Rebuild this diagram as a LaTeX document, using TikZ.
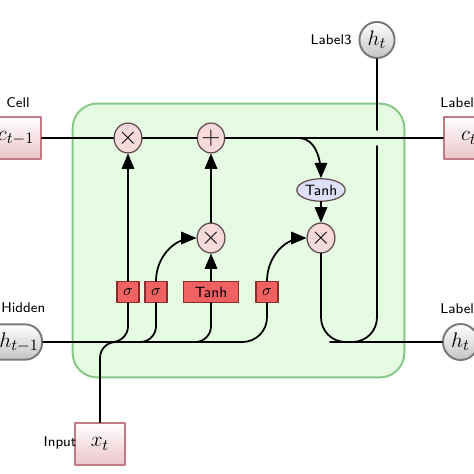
\documentclass[tikz,border=0pt]{standalone}
\usepackage{pgf,tikz}
\usetikzlibrary{arrows,shapes.geometric}

\definecolor{cellgreen}{RGB}{229,251,226}
\definecolor{cellborder}{RGB}{134,200,134}
\definecolor{oppink}{RGB}{248,218,218}
\definecolor{opborder}{RGB}{95,75,75}
\definecolor{gatered}{RGB}{240,98,98}
\definecolor{gateborder}{RGB}{140,45,45}
\definecolor{tanhblue}{RGB}{222,224,250}
\definecolor{boxpink}{RGB}{236,196,202}
\definecolor{boxborder}{RGB}{192,122,132}
\definecolor{hidgray}{RGB}{196,196,196}
\definecolor{hidborder}{RGB}{120,120,120}

\tikzset{
  cellbody/.style={draw=cellborder,fill=cellgreen,line width=1.1pt,rounded corners=14pt,
    minimum width=188.8pt,minimum height=155.9pt},
  operator/.style={ellipse,draw=opborder,fill=oppink,line width=0.7pt,inner sep=0pt,
    minimum width=15.3pt,minimum height=17pt,font=\Large},
  gate/.style={rectangle,draw=gateborder,fill=gatered,line width=0.6pt,inner sep=0pt,
    minimum width=12.5pt,minimum height=12pt,font=\small},
  tanhbox/.style={gate,minimum width=31.2pt,font=\fontsize{8.5}{10}\sffamily},
  tanhoval/.style={ellipse,draw=opborder,fill=tanhblue,line width=0.7pt,inner sep=0pt,
    minimum width=27.5pt,minimum height=12.8pt,font=\fontsize{8.5}{10}\sffamily},
  statebox/.style={rectangle,draw=boxborder,top color=white,bottom color=boxpink,
    line width=1.1pt,inner sep=3pt,minimum width=28.3pt,minimum height=23.8pt,
    font=\fontsize{13}{15}\selectfont},
  hidden/.style={ellipse,draw=hidborder,top color=white,bottom color=hidgray,
    line width=1.1pt,inner sep=0pt,minimum width=20pt,minimum height=20.5pt,
    font=\fontsize{13}{15}\selectfont},
  hiddenbar/.style={hidden,rectangle,rounded corners=9.5pt,minimum width=34pt,minimum height=20pt},
  mylabel/.style={font=\fontsize{8}{9.5}\sffamily,inner sep=0pt},
  wire/.style={line width=1pt,black}
}

\begin{document}
\begin{tikzpicture}[line cap=round,line join=round,>=triangle 45,x=0.02cm,y=-0.02cm]
\useasboundingbox (0,0) rectangle (474,474);
\clip (0,0) rectangle (474,474);

% cell body
\node[cellbody] (lstm) at (238.5,240.5) {};

% operators on the cell line
\node[operator] (fx) at (128,138) {$\times$};
\node[operator] (px) at (211,138) {$+$};
\node[operator] (mx) at (211,238) {$\times$};
\node[operator] (ox) at (321,238) {$\times$};
\node[tanhoval] (te) at (321,190) {Tanh};

% gates
\node[gate] (s1) at (128,292) {$\sigma$};
\node[gate] (s2) at (156,292) {$\sigma$};
\node[tanhbox] (tb) at (211,292) {Tanh};
\node[gate] (s3) at (267,292) {$\sigma$};

% inputs and outputs
\node[statebox,anchor=east] (cprev) at (42,138) {$c_{t-1}$};
\node[statebox,anchor=west] (cnext) at (443,138) {$c_t$};
\node[statebox] (xt) at (100,444) {$x_t$};
\node[hiddenbar,anchor=east] (hprev) at (43,342) {\hspace*{8pt}$h_{t-1}$};
\node[hidden,anchor=west] (hnext) at (442,342) {$h_t$};
\node[hidden] (hup) at (377,40) {$h_t$};

% labels
\node[mylabel] (lcell) at (18,103) {Cell};
\node[mylabel,anchor=west] (lhid) at (1,308) {Hidden};
\node[mylabel] (lin) at (60,443) {Input};
\node[mylabel,anchor=east] (lup) at (352,40) {Label3};
\node[mylabel,anchor=west] (lc) at (440,103) {Label};
\node[mylabel,anchor=west] (lh) at (440,309) {Label};

% helper points
\coordinate (tap) at (298,138);
\coordinate (hjl) at (60,342);
\coordinate (hjr) at (230,342);
\coordinate (gapa) at (377,130);
\coordinate (gapb) at (377,146);
\coordinate (ojn) at (330,342);

% cell state line
\draw[wire] (cprev.east) -- (fx) -- (px) -- (cnext.west);
\draw[wire,->] (tap) to[out=0,in=90] (te.north);
\draw[wire,->] (te.south) -- (ox.north);

% gates into operators
\draw[wire,->] (s1.north) -- (fx.south);
\draw[wire,->] (s2.north) to[out=90,in=180] (mx.west);
\draw[wire,->] (tb.north) -- (mx.south);
\draw[wire,->] (mx.north) -- (px.south);
\draw[wire,->] (s3.north) to[out=90,in=180] (ox.west);

% hidden line and branches
\draw[wire,rounded corners=14pt] (hprev.east) -| (s3.south);
\draw[wire,rounded corners=9pt] (s1.south) |- (hjl);
\draw[wire,rounded corners=9pt] (s2.south) |- (hjl);
\draw[wire,rounded corners=9pt] (tb.south) |- (hjl);
\draw[wire,rounded corners=9pt] (xt.north) |- (hjr);

% output
\draw[wire,rounded corners=14pt] (ox.south) |- (hnext.west);
\draw[wire] (hup.south) -- (gapa);
\draw[wire,rounded corners=14pt] (gapb) |- (ojn);

\end{tikzpicture}
\end{document}
